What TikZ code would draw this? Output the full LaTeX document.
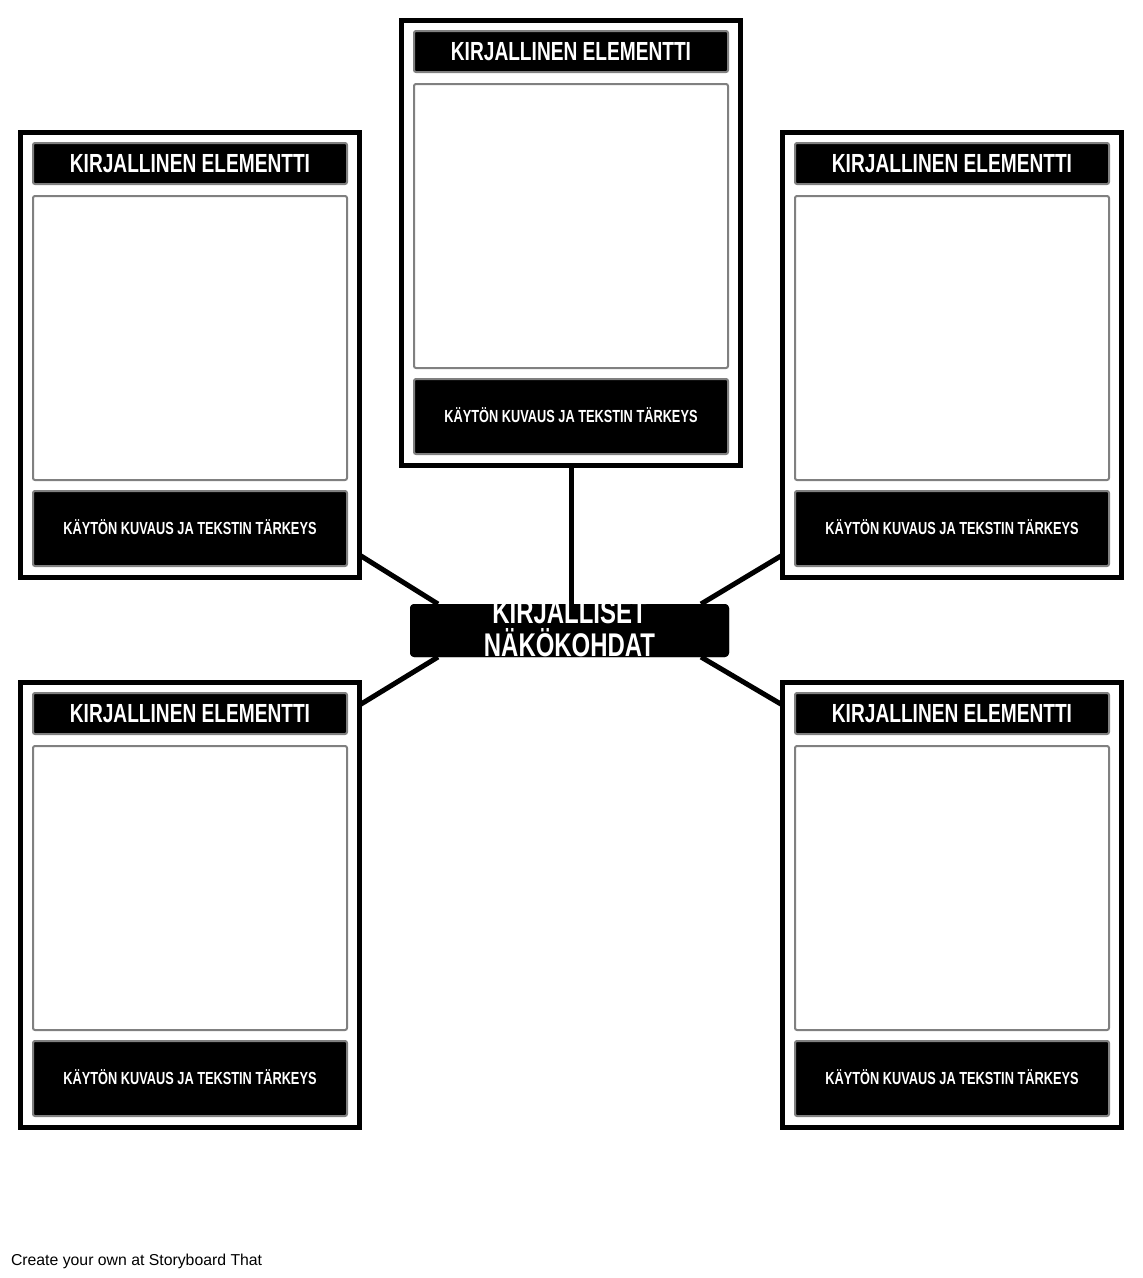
\documentclass[tikz,border=0pt]{standalone}
\usepackage{fontspec}
\setmainfont{Liberation Sans}
\newfontfamily\condfont[FakeStretch=0.73]{Liberation Sans}
\usepackage{xcolor}
\usetikzlibrary{calc, positioning}
\definecolor{edgegray}{RGB}{128,128,128}

\begin{document}
\begin{tikzpicture}[x=1pt, y=-1pt, every node/.style={inner sep=0pt, outer sep=0pt},
    card/.style={draw=black, line width=5.5pt, fill=white, minimum width=339pt, minimum height=445pt},
    head/.style={draw=edgegray, line width=2pt, fill=black, rounded corners=2pt, minimum width=314pt, minimum height=41pt,
        text=white, font=\condfont\bfseries\fontsize{26.2}{27}\selectfont, text height=18.7pt, text depth=0pt},
    body/.style={draw=edgegray, line width=2pt, fill=white, rounded corners=2pt, minimum width=314pt, minimum height=284pt},
    foot/.style={draw=edgegray, line width=2pt, fill=black, rounded corners=2pt, minimum width=314pt, minimum height=75pt,
        text=white, font=\condfont\bfseries\fontsize{17.5}{18}\selectfont, text height=12.5pt, text depth=0pt},
    link/.style={line width=5pt},
    hub/.style={fill=black, rounded corners=4pt, minimum width=319pt, minimum height=53pt}]
    \useasboundingbox (0,0) rectangle (1143,1278);
    % five cards
    \foreach \n/\x/\y in {top/399/18, lt/18/130, rt/780/130, lb/18/680, rb/780/680} {
        \node[card] (\n) at (\x+172,\y+225) {};
        \node[head] (\n-head) at (\x+172,\y+33.5) {KIRJALLINEN ELEMENTTI};
        \node[body] (\n-body) at (\x+172,\y+208) {};
        \node[foot] (\n-foot) at (\x+172,\y+398.5) {KÄYTÖN KUVAUS JA TEKSTIN TÄRKEYS};
    }
    % centre
    \node[hub] (hub) at (569.5,630.5) {};
    \coordinate (hub-nw) at ($(hub.north west)+(28,0)$);
    \coordinate (hub-ne) at ($(hub.north east)+(-28,0)$);
    \coordinate (hub-sw) at ($(hub.south west)+(28,0)$);
    \coordinate (hub-se) at ($(hub.south east)+(-28,0)$);
    \coordinate (lt-joint) at ($(lt.south east)+(0,-22.5)$);
    \coordinate (rt-joint) at ($(rt.south west)+(0,-22.5)$);
    \coordinate (lb-joint) at ($(lb.north east)+(0,22.5)$);
    \coordinate (rb-joint) at ($(rb.north west)+(0,22.5)$);
    \draw[link] (top.south) -- (top.south |- hub.north);
    \draw[link] (lt-joint) -- (hub-nw);
    \draw[link] (rt-joint) -- (hub-ne);
    \draw[link] (lb-joint) -- (hub-sw);
    \draw[link] (rb-joint) -- (hub-se);
    \node[hub] at (hub.center) {};
    \node[text=white, align=center, font=\condfont\bfseries\fontsize{32.8}{33.5}\selectfont] (hub-text) at ($(hub.center)+(0,-2)$) {KIRJALLISET\\NÄKÖKOHDAT};
    % footer
    \node[anchor=base west, font=\fontsize{15.8}{18}\selectfont] (credit) at (11,1265) {Create your own at Storyboard That};
\end{tikzpicture}
\end{document}
